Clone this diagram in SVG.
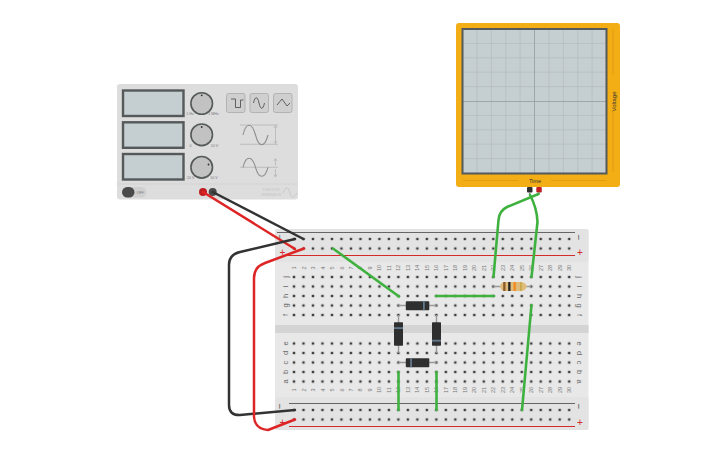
<svg xmlns="http://www.w3.org/2000/svg" xmlns:xlink="http://www.w3.org/1999/xlink" width="725" height="453" viewBox="0 0 725 453">
<style>
text{font-family:"Liberation Sans",Arial,sans-serif}
.lcd{fill:#c5ced0;stroke:#55595a;stroke-width:2.4}
.knob{fill:#c2c2c2;stroke:#55595a;stroke-width:1.6}
.dot{fill:#333}
.btn{fill:#cfcfcf;stroke:#a9a9a9;stroke-width:.8}
.ic{fill:none;stroke:#555;stroke-width:.9}
.wv{fill:none;stroke:#8e8e8e;stroke-width:1.1}
.ln{fill:none;stroke:#b0b0b0;stroke-width:.7}
.sm{font-size:3.6px;fill:#777;text-anchor:middle}
.faint{font-size:3.2px;fill:#c4c4c4;text-anchor:middle}
.num{font-size:5.6px;fill:#777;text-anchor:middle}
.let{font-size:7.5px;fill:#666;text-anchor:middle}
.w{fill:none;stroke-linecap:round;stroke-linejoin:round}
.g{stroke:#3fb13f;stroke-width:2.6}
.r{stroke:#de2526;stroke-width:2.5}
.k{stroke:#333;stroke-width:2.5}
.lead{stroke:#999;stroke-width:1.4;fill:none}
.dio{fill:#2f2f2f}
.band{fill:#62778a}
.grid{stroke:#b3bcbe;stroke-width:.7;fill:none}
.ax{stroke:#dc9b12;stroke-width:.8;fill:none}
</style>
<defs>
<pattern id="holes" patternUnits="userSpaceOnUse" x="289.255" y="272.250" width="9.49" height="9.5">
<circle cx="4.745" cy="4.75" r="2.1" fill="#d6d6d6"/>
<circle cx="4.745" cy="4.75" r="1.3" fill="#3a3a3a"/>
</pattern>
</defs>

<g id="function-generator">
<rect x="117" y="84" width="181" height="115.500" rx="3" fill="#dddddd"/>
<line x1="117" y1="184" x2="298" y2="184" stroke="#d2d2d2" stroke-width=".8"/>
<rect class="lcd" x="123" y="90.500" width="60.500" height="25.500"/>
<rect class="lcd" x="123" y="122.300" width="60.500" height="25.500"/>
<rect class="lcd" x="123" y="154" width="60.500" height="25.500"/>
<circle class="knob" cx="201.700" cy="103.500" r="10.800"/><circle class="dot" cx="201.700" cy="95.300" r=".9"/>
<circle class="knob" cx="201.700" cy="134.800" r="10.800"/><circle class="dot" cx="201.700" cy="127" r=".9"/>
<circle class="knob" cx="201.700" cy="167.300" r="10.800"/><circle class="dot" cx="208.500" cy="164.500" r=".9"/>
<text class="sm" x="190" y="114.500">1 Hz</text><text class="sm" x="213.500" y="114.500">1 MHz</text>
<text class="sm" x="190.500" y="146.500">0</text><text class="sm" x="214.500" y="146.500">10 V</text>
<text class="sm" x="190" y="179">-10 V</text><text class="sm" x="214" y="179">10 V</text>
<rect class="btn" x="226.500" y="93.500" width="18.500" height="19" rx="2"/>
<rect class="btn" x="250" y="93.500" width="18.500" height="19" rx="2"/>
<rect class="btn" x="273.500" y="93.500" width="18.500" height="19" rx="2"/>
<path class="ic" d="M231 99h4.500v8.500h5v-7.500h3"/>
<path class="ic" d="M253.500 103c1.500-7 4-7 5.500 0s4 7 5.500 0"/>
<path class="ic" d="M277 105l5-6 5 7 3-3"/>
<path class="ln" d="M240 125h38M240 144.300h38M275.500 126v17.500M273.800 128l1.700-2.500 1.700 2.500M273.800 141l1.700 2.500 1.700-2.500"/>
<path class="wv" d="M243 135c3-13 9-13 12.500 0s9 13 12.500 0"/>
<path class="ln" d="M240 167.300h38M275.500 159v6.500M275.500 169v7.500M273.800 161l1.700-2.500 1.700 2.500M273.800 174.500l1.700 2.500 1.700-2.500"/>
<path class="wv" d="M243 167.300c3-12 9-12 12.500 0s9 12 12.500 0"/>
<rect x="122" y="187" width="24.500" height="10.500" rx="5.250" fill="#cfcfcf"/>
<rect x="122" y="187" width="12.500" height="10.500" rx="5.250" fill="#4a4a4a"/>
<text class="sm" x="140" y="193.500">OFF</text>
<text class="faint" x="271" y="191">FUNCTION</text><text class="faint" x="271" y="195.500">GENERATOR</text>
<path d="M283 193c3-7 5-7 7 0s4 4 7 0" fill="none" stroke="#c9c9c9" stroke-width="1"/>
<circle cx="203" cy="192" r="4" fill="#bf1f22"/>
<circle cx="212.700" cy="192" r="4" fill="#4a4a4a"/>
</g>

<g id="oscilloscope">
<rect x="456" y="23" width="164" height="164" rx="3" fill="#f2ae14"/>
<rect x="462.500" y="29" width="144" height="144.500" fill="#c5ced0"/>
<path class="grid" d="M476.900 29v144.500M491.300 29v144.500M505.700 29v144.500M520.100 29v144.500M548.900 29v144.500M563.300 29v144.500M577.700 29v144.500M592.100 29v144.500M462.500 43.400h144M462.500 57.800h144M462.500 72.200h144M462.500 86.600h144M462.500 115.400h144M462.500 129.800h144M462.500 144.200h144M462.500 158.600h144"/>
<path d="M534.500 29v144.500M462.500 101.500h144" stroke="#98a2a4" stroke-width=".9" fill="none"/>
<rect x="462.500" y="29" width="144" height="144.500" fill="none" stroke="#55595a" stroke-width="2"/>
<path class="ax" d="M463 180.500h55M551 180.500h55M613 29v46M613 112v60"/>
<text x="535" y="182.500" font-size="5.600" fill="#333" text-anchor="middle">Time</text>
<text transform="translate(615.500 101.500) rotate(-90)" font-size="6" fill="#333" text-anchor="middle">Voltage</text>
<rect x="527" y="187" width="5.500" height="5.500" rx="1" fill="#2f2f2f"/>
<rect x="536.300" y="187" width="5.500" height="5.500" rx="1" fill="#bf1f22"/>
<path d="M529.800 192v3M539 192v2" stroke="#8c8c8c" stroke-width="1.500"/>
</g>

<g id="breadboard">
<rect x="275" y="229" width="313.500" height="201" rx="2" fill="#e8e8e8"/>
<rect x="275" y="229" width="313.500" height="33" rx="2" fill="#e3e3e3"/>
<rect x="275" y="397" width="313.500" height="33" rx="2" fill="#e3e3e3"/>
<rect x="275" y="325" width="313.500" height="8" fill="#d4d4d4"/>
<path d="M277 232.500H575M289 403.500H575" stroke="#666" stroke-width="1"/>
<path d="M285 255.500H575M289 426.500H575" stroke="#d42a2a" stroke-width="1"/>
<rect x="289.255" y="234.250" width="284.700" height="19" fill="url(#holes)"/>
<rect x="289.255" y="272.250" width="284.700" height="47.500" fill="url(#holes)"/>
<rect x="289.255" y="338.750" width="284.700" height="47.500" fill="url(#holes)"/>
<rect x="289.255" y="405.250" width="284.700" height="19" fill="url(#holes)"/>
<g font-size="10" text-anchor="middle">
<text transform="translate(282.500 237) rotate(-90)" fill="#555">−</text><text x="282.500" y="256" fill="#d42a2a">+</text>
<text transform="translate(582 237) rotate(-90)" fill="#555">−</text><text x="580" y="256" fill="#d42a2a">+</text>
<text transform="translate(282.500 406) rotate(-90)" fill="#555">−</text><text x="282.500" y="426" fill="#d42a2a">+</text>
<text transform="translate(582 406) rotate(-90)" fill="#555">−</text><text x="580" y="426" fill="#d42a2a">+</text>
</g>
<g transform="rotate(-90)">
<text class="let" x="-277" y="287.500">j</text><text class="let" x="-286.500" y="287.500">i</text><text class="let" x="-296" y="287.500">h</text><text class="let" x="-305.500" y="287.500">g</text><text class="let" x="-315" y="287.500">f</text>
<text class="let" x="-343.500" y="287.500">e</text><text class="let" x="-353" y="287.500">d</text><text class="let" x="-362.500" y="287.500">c</text><text class="let" x="-372" y="287.500">b</text><text class="let" x="-381.500" y="287.500">a</text>
</g>
<g transform="rotate(90)">
<text class="let" x="277" y="-577">j</text><text class="let" x="286.500" y="-577">i</text><text class="let" x="296" y="-577">h</text><text class="let" x="305.500" y="-577">g</text><text class="let" x="315" y="-577">f</text>
<text class="let" x="343.500" y="-577">e</text><text class="let" x="353" y="-577">d</text><text class="let" x="362.500" y="-577">c</text><text class="let" x="372" y="-577">b</text><text class="let" x="381.500" y="-577">a</text>
</g>
<g transform="rotate(-90)">
<text class="num" x="-268" y="296">1</text><text class="num" x="-268" y="305.500">2</text><text class="num" x="-268" y="315">3</text><text class="num" x="-268" y="324.500">4</text><text class="num" x="-268" y="334">5</text><text class="num" x="-268" y="343.500">6</text><text class="num" x="-268" y="353">7</text><text class="num" x="-268" y="362.400">8</text><text class="num" x="-268" y="371.900">9</text><text class="num" x="-268" y="381.400">10</text><text class="num" x="-268" y="390.900">11</text><text class="num" x="-268" y="400.400">12</text><text class="num" x="-268" y="409.900">13</text><text class="num" x="-268" y="419.400">14</text><text class="num" x="-268" y="428.900">15</text><text class="num" x="-268" y="438.400">16</text><text class="num" x="-268" y="447.800">17</text><text class="num" x="-268" y="457.300">18</text><text class="num" x="-268" y="466.800">19</text><text class="num" x="-268" y="476.300">20</text><text class="num" x="-268" y="485.800">21</text><text class="num" x="-268" y="495.300">22</text><text class="num" x="-268" y="504.800">23</text><text class="num" x="-268" y="514.300">24</text><text class="num" x="-268" y="523.800">25</text><text class="num" x="-268" y="533.300">26</text><text class="num" x="-268" y="542.700">27</text><text class="num" x="-268" y="552.200">28</text><text class="num" x="-268" y="561.700">29</text><text class="num" x="-268" y="571.200">30</text>
<text class="num" x="-390" y="296">1</text><text class="num" x="-390" y="305.500">2</text><text class="num" x="-390" y="315">3</text><text class="num" x="-390" y="324.500">4</text><text class="num" x="-390" y="334">5</text><text class="num" x="-390" y="343.500">6</text><text class="num" x="-390" y="353">7</text><text class="num" x="-390" y="362.400">8</text><text class="num" x="-390" y="371.900">9</text><text class="num" x="-390" y="381.400">10</text><text class="num" x="-390" y="390.900">11</text><text class="num" x="-390" y="400.400">12</text><text class="num" x="-390" y="409.900">13</text><text class="num" x="-390" y="419.400">14</text><text class="num" x="-390" y="428.900">15</text><text class="num" x="-390" y="438.400">16</text><text class="num" x="-390" y="447.800">17</text><text class="num" x="-390" y="457.300">18</text><text class="num" x="-390" y="466.800">19</text><text class="num" x="-390" y="476.300">20</text><text class="num" x="-390" y="485.800">21</text><text class="num" x="-390" y="495.300">22</text><text class="num" x="-390" y="504.800">23</text><text class="num" x="-390" y="514.300">24</text><text class="num" x="-390" y="523.800">25</text><text class="num" x="-390" y="533.300">26</text><text class="num" x="-390" y="542.700">27</text><text class="num" x="-390" y="552.200">28</text><text class="num" x="-390" y="561.700">29</text><text class="num" x="-390" y="571.200">30</text>
</g>
</g>

<g id="diode-top">
<path class="lead" d="M398.500 305.500H436.500"/>
<rect class="dio" x="405.800" y="301.200" width="23.500" height="9" rx=".8"/>
<rect class="band" x="423" y="301.200" width="1.800" height="9"/>
</g>
<g id="diode-left">
<path class="lead" d="M398.500 315V353"/>
<rect class="dio" x="394" y="322.300" width="9" height="23.500" rx=".8"/>
<rect class="band" x="394" y="327.200" width="9" height="1.800"/>
</g>
<g id="diode-right">
<path class="lead" d="M436.500 315V353"/>
<rect class="dio" x="432" y="322.300" width="9" height="23.500" rx=".8"/>
<rect class="band" x="432" y="339.800" width="9" height="1.800"/>
</g>
<g id="diode-bottom">
<path class="lead" d="M398.500 362.500H436.500"/>
<rect class="dio" x="405.800" y="358.200" width="23.500" height="9" rx=".8"/>
<rect class="band" x="410.200" y="358.200" width="1.800" height="9"/>
</g>
<g id="resistor">
<path class="lead" d="M493.300 286.500H531.300"/>
<path d="M500 286.500c1-4 3-4.500 6-4.500h14c3 0 5 .5 7 4.500c-2 4-4 4.500-7 4.500h-14c-3 0-5-.5-6-4.500z" fill="#e0bc7c"/>
<rect x="503.200" y="282" width="2.300" height="9" fill="#8a5a2b"/>
<rect x="508.200" y="282" width="2.300" height="9" fill="#222"/>
<rect x="513.500" y="282" width="2.300" height="9" fill="#f08a1d"/>
<rect x="520" y="282" width="1.800" height="9" fill="#c9a94e"/>
</g>

<g id="connectors">
<path class="w k" d="M212.700 192L303.500 239"/>
<path class="w r" d="M203 192L295 249"/>
<path class="w k" d="M295 239L240 252Q229 254.500 229 265V405Q229 415.500 240 415L295 410"/>
<path class="w r" d="M304 248.500L265 263Q254 267 254 278V417Q255 429 268 430L295 419.500"/>
<path class="w g" d="M333 248.500L399 296.500"/>
<path class="w g" d="M436 296H494"/>
<path class="w g" d="M398.500 372V410"/>
<path class="w g" d="M436.500 372V410"/>
<path class="w g" d="M522 410L531.500 305"/>
<path class="w g" d="M538.500 194L507 207Q499 211 498.500 220L493.500 277"/>
<path class="w g" d="M530 195Q537 208 537.500 222L531.500 277"/>
</g>
</svg>
